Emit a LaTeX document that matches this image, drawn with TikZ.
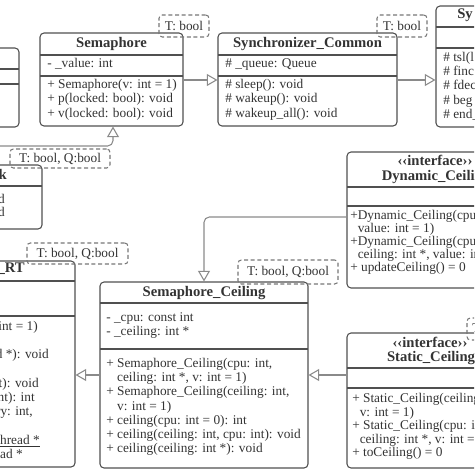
\documentclass[tikz,border=0pt]{standalone}
\usepackage{fontspec}
\setmainfont{Liberation Serif}
\usetikzlibrary{arrows.meta,fit}
\definecolor{linec}{HTML}{505050}
\definecolor{connc}{HTML}{8A8A8A}
\definecolor{textc}{HTML}{333333}
\definecolor{dashc}{HTML}{777777}
\tikzset{
 umlbox/.style={draw=linec, line width=0.8pt, rounded corners=3pt, inner sep=0pt},
 sepline/.style={draw=linec, line width=0.8pt},
 tmpl/.style={draw=dashc, line width=0.8pt, dash pattern=on 3pt off 2pt, rounded corners=2.5pt, inner sep=0pt},
 txt/.style={inner sep=0pt, text=textc, font=\fontsize{10}{12}\selectfont},
 ttl/.style={inner sep=0pt, text=textc, font=\bfseries\fontsize{11}{13}\selectfont},
 inh/.style={draw=connc, line width=0.8pt, -{Triangle[open, length=8pt, width=9pt]}, rounded corners=4pt},
}
\newcommand\mlines[5]{\foreach \t [count=\i] in {#5} {\node[txt, anchor=base west] (#1-\i) at ({#2}, {#3+3.5+(\i-1)*#4}) {\t};}}
\begin{document}
\begin{tikzpicture}[x=0.75pt,y=-0.75pt]
\useasboundingbox (0,0) rectangle (474,474);
\clip (0,0) rectangle (474,474);

% top-left clipped box
\node[umlbox, fit={(-60,48)(19,127)}] (tl) {};
\draw[sepline] (-60,69) -- (19,69);
\draw[sepline] (-60,84) -- (19,84);

% Semaphore
\node[umlbox, fit={(40,33)(183,126)}] (sem) {};
\draw[sepline] (40,55) -- (183,55);
\draw[sepline] (40,76) -- (183,76);
\node[ttl, anchor=base] (sem-t) at (111.5,47.5) {Semaphore};
\mlines{sem-a}{47}{64}{14.5}{{- \_value: int}}
\mlines{sem-m}{47}{85}{14.5}{{+ Semaphore(v: int = 1)},{+ p(locked: bool): void},{+ v(locked: bool): void}}

% Synchronizer_Common
\node[umlbox, fit={(218,33)(397,126)}] (sc) {};
\draw[sepline] (218,55) -- (397,55);
\draw[sepline] (218,76) -- (397,76);
\node[ttl, anchor=base] (sc-t) at (307.5,47.5) {Synchronizer\_Common};
\mlines{sc-a}{225}{64}{14.5}{{\# \_queue: Queue}}
\mlines{sc-m}{225}{85}{14.5}{{\# sleep(): void},{\# wakeup(): void},{\# wakeup\_all(): void}}

% right top clipped box
\node[umlbox, fit={(436,6)(540,127)}] (rb) {};
\draw[sepline] (436,27) -- (540,27);
\draw[sepline] (436,48) -- (540,48);
\node[ttl, anchor=base west] (rb-t) at (457,18.5) {Sy};
\mlines{rb-m}{443}{58}{14.2}{{\# tsl(l},{\# finc},{\# fdec},{\# beg},{\# end\_}}

% left middle clipped box
\node[umlbox, fit={(-60,165)(42,229)}] (lm) {};
\draw[sepline] (-60,186) -- (42,186);
\node[ttl, anchor=base east] (lm-t) at (7,179) {k};
\node[txt, anchor=base east] (lm-m1) at (5,203.5) {d};
\node[txt, anchor=base east] (lm-m2) at (5,216.5) {d};

% _RT clipped box
\node[umlbox, fit={(-80,261)(75,467)}] (rt) {};
\draw[sepline] (-80,281) -- (75,281);
\draw[sepline] (-80,316) -- (75,316);
\node[ttl, anchor=base east] (rt-t) at (25,272) {\_RT};
\node[txt, anchor=base east] (rt-m1) at (38,330.5) {int = 1)};
\node[txt, anchor=base east] (rt-m2) at (49,358.5) {d *): void};
\node[txt, anchor=base east] (rt-m3) at (39,387.5) {t): void};
\node[txt, anchor=base east] (rt-m4) at (35,401.5) {nt): int};
\node[txt, anchor=base east] (rt-m5) at (33,415.5) {ry: int,};
\node[txt, anchor=base east] (rt-m6) at (40,444.5) {\underline{thread *}};
\node[txt, anchor=base east] (rt-m7) at (23,458.5) {ad *};

% Semaphore_Ceiling
\node[umlbox, fit={(100,282)(308,468)}] (semc) {};
\draw[sepline] (100,303) -- (308,303);
\draw[sepline] (100,349) -- (308,349);
\node[ttl, anchor=base] (semc-t) at (204,296.5) {Semaphore\_Ceiling};
\mlines{semc-a}{106}{318}{14.2}{{- \_cpu: const int},{- \_ceiling: int *}}
\mlines{semc-m}{106}{364}{14.2}{{+ Semaphore\_Ceiling(cpu: int,},{\phantom{+ }ceiling: int *, v: int = 1)},{+ Semaphore\_Ceiling(ceiling: int,},{\phantom{+ }v: int = 1)},{+ ceiling(cpu: int = 0): int},{+ ceiling(ceiling: int, cpu: int): void},{+ ceiling(ceiling: int *): void}}

% Dynamic_Ceiling
\node[umlbox, fit={(347,152)(520,288)}] (dyn) {};
\draw[sepline] (347,187) -- (520,187);
\draw[sepline] (347,206) -- (520,206);
\node[ttl, anchor=base] (dyn-t1) at (435,166) {‹‹interface››};
\node[ttl, anchor=base] (dyn-t2) at (436,180.5) {Dynamic\_Ceiling};
\mlines{dyn-m}{350}{216}{13}{{+Dynamic\_Ceiling(cpu: int,},{\phantom{+}value: int = 1)},{+Dynamic\_Ceiling(cpu: int,},{\phantom{+}ceiling: int *, value: int = 1)},{+ updateCeiling() = 0}}

% Static_Ceiling
\node[umlbox, fit={(347,333)(515,468)}] (stat) {};
\draw[sepline] (347,368) -- (515,368);
\draw[sepline] (347,388) -- (515,388);
\node[ttl, anchor=base] (stat-t1) at (430,347) {‹‹interface››};
\node[ttl, anchor=base] (stat-t2) at (431,361.5) {Static\_Ceiling};
\mlines{stat-m}{352}{399}{13.5}{{+ Static\_Ceiling(ceiling: int *,},{\phantom{+}v: int = 1)},{+ Static\_Ceiling(cpu: int,},{\phantom{+}ceiling: int *, v: int = 1)},{+ toCeiling() = 0}}

% templates
\node[tmpl, fit={(159,15)(209,37)}] (sem-tp) {};
\node[txt] (sem-tpt) at (sem-tp.center) {T: bool};
\node[tmpl, fit={(377,15)(427,37)}] (sc-tp) {};
\node[txt] (sc-tpt) at (sc-tp.center) {T: bool};
\node[tmpl, fit={(10,149)(110,168)}] (lm-tp) {};
\node[txt] (lm-tpt) at (lm-tp.center) {T: bool, Q:bool};
\node[tmpl, fit={(27,243)(128,264)}] (rt-tp) {};
\node[txt] (rt-tpt) at (rt-tp.center) {T: bool, Q:bool};
\node[tmpl, fit={(238,260)(338,284)}] (semc-tp) {};
\node[txt] (semc-tpt) at (semc-tp.center) {T: bool, Q:bool};
\node[tmpl, fit={(467,318)(560,340)}] (stat-tp) {};
\node[txt, anchor=base west] (stat-tpt) at (472,332.5) {T: bool};

% connectors
\coordinate (y80) at (0,80);
\coordinate (y375) at (0,375);
\coordinate (dk) at (204,217);
\coordinate (lmo) at (-20,146);
\coordinate (lmk) at (113,146);
\draw[inh] (sem.east |- y80) -- (sc.west |- y80);
\draw[inh] (sc.east |- y80) -- (rb.west |- y80);
\draw[inh] (lmo) -- (lmk) -- (lmk |- sem.south);
\draw[inh] (dyn.west |- dk) -- (dk) -- (dk |- semc.north);
\draw[inh] (semc.west |- y375) -- (rt.east |- y375);
\draw[inh] (stat.west |- y375) -- (semc.east |- y375);
\end{tikzpicture}
\end{document}
